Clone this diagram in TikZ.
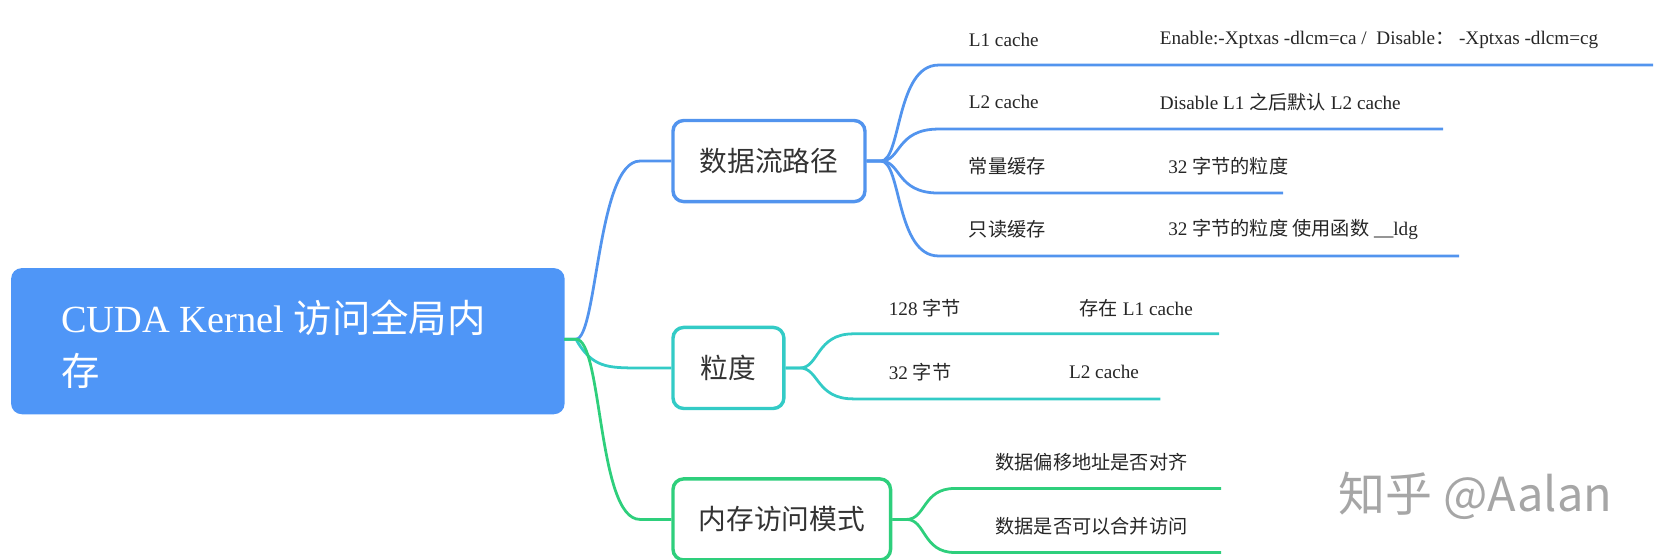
\documentclass[tikz,border=0pt]{standalone}
\usepackage{fontspec}
\setmainfont{Liberation Serif}
\newfontfamily\cjk{Noto Sans CJK SC}
\definecolor{cblue}{HTML}{5294EE}
\definecolor{croot}{HTML}{4F96F7}
\definecolor{cteal}{HTML}{33CBC6}
\definecolor{cgreen}{HTML}{2ECF7C}
\begin{document}
\begin{tikzpicture}[x=0.5pt,y=-0.5pt,
  mainbox/.style={draw,line width=1.6pt,rounded corners=5pt,fill=white,minimum height=38pt,inner xsep=12pt,font=\cjk\fontsize{13}{15}\selectfont,text=black!80},
  leaf/.style={anchor=west,font=\fontsize{9}{11}\selectfont,text=black!85,inner sep=0},
  conn/.style={line width=1.3pt}]
\useasboundingbox (0,0) rectangle (1563,525);
\node[fill=croot,rounded corners=5pt,minimum width=259.5pt,minimum height=68.5pt,anchor=north west,inner sep=0] (root) at (10,251) {};
\node[anchor=west,align=left,text=white,font=\fontsize{18}{25}\selectfont,inner sep=0] (roottxt) at (57,323) {CUDA Kernel {\cjk 访问全局内}\\{\cjk 存}};
\coordinate (rs) at (529,318);
\node[mainbox,draw=cblue,minimum width=90pt] (a) at (721,151) {数据流路径};
\node[mainbox,draw=cteal,minimum width=52pt] (b) at (683,345) {粒度};
\node[mainbox,draw=cgreen,minimum width=102pt] (c) at (733,487) {内存访问模式};
\draw[conn,cblue] (rs) -- (540,318) .. controls (560,318) and (560,151) .. (600,151) -- (a.west);
\draw[conn,cteal] (rs) -- (540,318) .. controls (555,345) and (570,345) .. (600,345) -- (b.west);
\draw[conn,cgreen] (rs) -- (540,318) .. controls (565,318) and (560,487) .. (600,487) -- (c.west);
% data path leaves
\foreach \y/\e/\n in {61/1550/a1,121/1353/a2,181/1203/a3,240/1368/a4}{
  \coordinate (\n s) at (880,\y); \coordinate (\n e) at (\e,\y);
  \draw[conn,cblue] (a.east) -- (826,151) .. controls (845,151) and (840,\y) .. (\n s) -- (\n e);}
\node[leaf] (l1) at (908,37) {L1 cache};
\node[leaf] (l1t) at (1087,37) {Enable:-Xptxas -dlcm=ca /\ \ Disable{\cjk ：}\ -Xptxas -dlcm=cg};
\node[leaf] (l2) at (908,96) {L2 cache};
\node[leaf] (l2t) at (1087,96) {Disable L1 {\cjk 之后默认} L2 cache};
\node[leaf] (l3) at (908,156) {\cjk 常量缓存};
\node[leaf] (l3t) at (1095,156) {32 {\cjk 字节的粒度}};
\node[leaf] (l4) at (908,215) {\cjk 只读缓存};
\node[leaf] (l4t) at (1095,215) {32 {\cjk 字节的粒度 使用函数} \_\_ldg};
% granularity leaves
\foreach \y/\e/\n in {313/1143/b1,374/1088/b2}{
  \coordinate (\n s) at (800,\y); \coordinate (\n e) at (\e,\y);
  \draw[conn,cteal] (b.east) -- (750,345) .. controls (768,345) and (765,\y) .. (\n s) -- (\n e);}
\node[leaf] (g1) at (833,289) {128 {\cjk 字节}};
\node[leaf] (g1t) at (1012,289) {{\cjk 存在} L1 cache};
\node[leaf] (g2) at (833,349) {32 {\cjk 字节}};
\node[leaf] (g2t) at (1002,349) {L2 cache};
% access pattern leaves
\foreach \y/\n in {458/c1,518/c2}{
  \coordinate (\n s) at (895,\y); \coordinate (\n e) at (1145,\y);
  \draw[conn,cgreen] (c.east) -- (850,487) .. controls (868,487) and (865,\y) .. (\n s) -- (\n e);}
\node[leaf,font=\cjk\fontsize{9}{11}\selectfont] (m1) at (933,433) {数据偏移地址是否对齐};
\node[leaf,font=\cjk\fontsize{9}{11}\selectfont] (m2) at (933,493) {数据是否可以合并访问};
\node[anchor=west,text=black!35,font=\cjk\fontsize{22}{26}\selectfont,inner sep=0] (wm) at (1255,465) {知乎 @Aalan};
\end{tikzpicture}
\end{document}
